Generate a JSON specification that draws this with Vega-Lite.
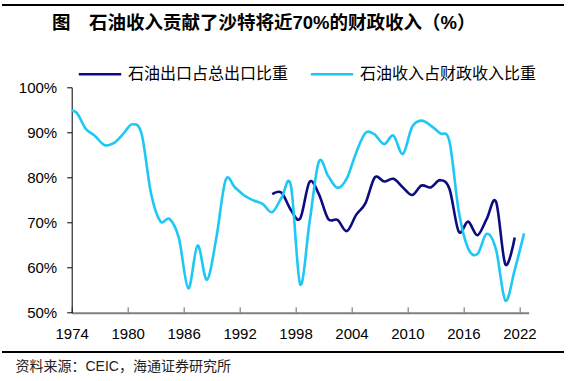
{
  "$schema": "https://vega.github.io/schema/vega-lite/v6.json",
  "autosize": {"type": "none"},
  "width": 457,
  "height": 225.4,
  "padding": {"left": 71.7, "top": 87.3, "right": 45.3, "bottom": 68.3},
  "background": "white",
  "config": {"view": {"stroke": null}, "font": "Liberation Sans, Noto Sans CJK SC"},
  "title": {
    "text": "图　石油收入贡献了沙特将近70%的财政收入（%）",
    "anchor": "start",
    "frame": "group",
    "dx": -19.7,
    "offset": -28,
    "font": "Liberation Sans, Noto Sans CJK SC",
    "fontSize": 18.5,
    "fontWeight": "bold",
    "color": "#000000"
  },
  "data": {
    "values": [
      {"year": "1995", "series": "石油出口占总出口比重", "value": 76.3},
      {"year": "1996", "series": "石油出口占总出口比重", "value": 76.6},
      {"year": "1997", "series": "石油出口占总出口比重", "value": 72.8},
      {"year": "1998", "series": "石油出口占总出口比重", "value": 70.9},
      {"year": "1999", "series": "石油出口占总出口比重", "value": 79.0},
      {"year": "2000", "series": "石油出口占总出口比重", "value": 76.3},
      {"year": "2001", "series": "石油出口占总出口比重", "value": 70.8},
      {"year": "2002", "series": "石油出口占总出口比重", "value": 70.6},
      {"year": "2003", "series": "石油出口占总出口比重", "value": 68.1},
      {"year": "2004", "series": "石油出口占总出口比重", "value": 71.7},
      {"year": "2005", "series": "石油出口占总出口比重", "value": 74.3},
      {"year": "2006", "series": "石油出口占总出口比重", "value": 80.0},
      {"year": "2007", "series": "石油出口占总出口比重", "value": 79.1},
      {"year": "2008", "series": "石油出口占总出口比重", "value": 79.7},
      {"year": "2009", "series": "石油出口占总出口比重", "value": 77.8},
      {"year": "2010", "series": "石油出口占总出口比重", "value": 76.1},
      {"year": "2011", "series": "石油出口占总出口比重", "value": 78.2},
      {"year": "2012", "series": "石油出口占总出口比重", "value": 77.8},
      {"year": "2013", "series": "石油出口占总出口比重", "value": 79.4},
      {"year": "2014", "series": "石油出口占总出口比重", "value": 77.5},
      {"year": "2015", "series": "石油出口占总出口比重", "value": 68.0},
      {"year": "2016", "series": "石油出口占总出口比重", "value": 70.2},
      {"year": "2017", "series": "石油出口占总出口比重", "value": 67.2},
      {"year": "2018", "series": "石油出口占总出口比重", "value": 70.8},
      {"year": "2019", "series": "石油出口占总出口比重", "value": 74.6},
      {"year": "2020", "series": "石油出口占总出口比重", "value": 60.7},
      {"year": "2021", "series": "石油出口占总出口比重", "value": 66.7},
      {"year": "1973", "series": "石油收入占财政收入比重", "value": 94.8},
      {"year": "1974", "series": "石油收入占财政收入比重", "value": 94.4},
      {"year": "1975", "series": "石油收入占财政收入比重", "value": 90.8},
      {"year": "1976", "series": "石油收入占财政收入比重", "value": 89.2},
      {"year": "1977", "series": "石油收入占财政收入比重", "value": 87.2},
      {"year": "1978", "series": "石油收入占财政收入比重", "value": 87.6},
      {"year": "1979", "series": "石油收入占财政收入比重", "value": 89.6},
      {"year": "1980", "series": "石油收入占财政收入比重", "value": 91.8},
      {"year": "1981", "series": "石油收入占财政收入比重", "value": 89.6},
      {"year": "1982", "series": "石油收入占财政收入比重", "value": 76.5},
      {"year": "1983", "series": "石油收入占财政收入比重", "value": 70.3},
      {"year": "1984", "series": "石油收入占财政收入比重", "value": 70.8},
      {"year": "1985", "series": "石油收入占财政收入比重", "value": 66.5},
      {"year": "1986", "series": "石油收入占财政收入比重", "value": 55.4},
      {"year": "1987", "series": "石油收入占财政收入比重", "value": 64.9},
      {"year": "1988", "series": "石油收入占财政收入比重", "value": 57.3},
      {"year": "1989", "series": "石油收入占财政收入比重", "value": 66.5},
      {"year": "1990", "series": "石油收入占财政收入比重", "value": 79.4},
      {"year": "1991", "series": "石油收入占财政收入比重", "value": 77.8},
      {"year": "1992", "series": "石油收入占财政收入比重", "value": 76.0},
      {"year": "1993", "series": "石油收入占财政收入比重", "value": 74.9},
      {"year": "1994", "series": "石油收入占财政收入比重", "value": 74.1},
      {"year": "1995", "series": "石油收入占财政收入比重", "value": 72.3},
      {"year": "1996", "series": "石油收入占财政收入比重", "value": 75.5},
      {"year": "1997", "series": "石油收入占财政收入比重", "value": 78.2},
      {"year": "1998", "series": "石油收入占财政收入比重", "value": 56.3},
      {"year": "1999", "series": "石油收入占财政收入比重", "value": 70.0},
      {"year": "2000", "series": "石油收入占财政收入比重", "value": 83.5},
      {"year": "2001", "series": "石油收入占财政收入比重", "value": 80.3},
      {"year": "2002", "series": "石油收入占财政收入比重", "value": 77.7},
      {"year": "2003", "series": "石油收入占财政收入比重", "value": 79.8},
      {"year": "2004", "series": "石油收入占财政收入比重", "value": 85.5},
      {"year": "2005", "series": "石油收入占财政收入比重", "value": 89.9},
      {"year": "2006", "series": "石油收入占财政收入比重", "value": 89.5},
      {"year": "2007", "series": "石油收入占财政收入比重", "value": 87.4},
      {"year": "2008", "series": "石油收入占财政收入比重", "value": 89.3},
      {"year": "2009", "series": "石油收入占财政收入比重", "value": 85.2},
      {"year": "2010", "series": "石油收入占财政收入比重", "value": 91.2},
      {"year": "2011", "series": "石油收入占财政收入比重", "value": 92.6},
      {"year": "2012", "series": "石油收入占财政收入比重", "value": 91.5},
      {"year": "2013", "series": "石油收入占财政收入比重", "value": 89.8},
      {"year": "2014", "series": "石油收入占财政收入比重", "value": 88.0},
      {"year": "2015", "series": "石油收入占财政收入比重", "value": 72.5},
      {"year": "2016", "series": "石油收入占财政收入比重", "value": 64.3},
      {"year": "2017", "series": "石油收入占财政收入比重", "value": 63.0},
      {"year": "2018", "series": "石油收入占财政收入比重", "value": 67.5},
      {"year": "2019", "series": "石油收入占财政收入比重", "value": 64.0},
      {"year": "2020", "series": "石油收入占财政收入比重", "value": 52.7},
      {"year": "2021", "series": "石油收入占财政收入比重", "value": 59.5},
      {"year": "2022", "series": "石油收入占财政收入比重", "value": 67.6}
    ]
  },
  "layer": [
    {
      "mark": {"type": "rule", "clip": false, "color": "#000000", "strokeWidth": 1.5},
      "encoding": {
        "x": {"datum": {"year": 1966, "month": 8, "date": 15, "utc": true}, "type": "temporal", "scale": {"domain": [{"year": 1974, "utc": true}, {"year": 2023, "utc": true}]}},
        "x2": {"datum": {"year": 2026, "month": 9, "date": 10, "utc": true}},
        "y": {"datum": 41.2, "type": "quantitative", "scale": {"domain": [50, 100], "zero": false}}
      }
    },
    {
      "mark": {"type": "line", "interpolate": "cardinal", "strokeWidth": 2.6, "clip": true},
      "encoding": {
        "x": {
          "field": "year",
          "type": "temporal",
          "timeUnit": "utcyear",
          "bandPosition": 0.5,
          "scale": {"domain": [{"year": 1974, "utc": true}, {"year": 2023, "utc": true}]},
          "axis": {
            "values": [
              {"year": 1974, "utc": true}, {"year": 1980, "utc": true}, {"year": 1986, "utc": true},
              {"year": 1992, "utc": true}, {"year": 1998, "utc": true}, {"year": 2004, "utc": true},
              {"year": 2010, "utc": true}, {"year": 2016, "utc": true}, {"year": 2022, "utc": true}
            ],
            "format": "%Y",
            "grid": false,
            "domainColor": "#808080",
            "domainWidth": 2,
            "tickColor": "#808080",
            "tickWidth": 1.2,
            "tickSize": -6,
            "labelFont": "Liberation Sans",
            "labelFontSize": 15,
            "labelColor": "#000000",
            "labelPadding": 20,
            "labelFlush": false,
            "labelOverlap": false,
            "title": "资料来源：CEIC，海通证券研究所",
            "titleFont": "Liberation Sans, Noto Sans CJK SC",
            "titleFontSize": 14,
            "titleFontWeight": "normal",
            "titleColor": "#222222",
            "titleAlign": "left",
            "titleAnchor": "start",
            "titleBaseline": "middle",
            "titleX": -56.7,
            "titleY": 54
          }
        },
        "y": {
          "field": "value",
          "type": "quantitative",
          "scale": {"domain": [50, 100], "zero": false},
          "axis": {
            "values": [50, 60, 70, 80, 90, 100],
            "labelExpr": "datum.value + '%'",
            "grid": false,
            "domainColor": "#000000",
            "tickColor": "#000000",
            "tickSize": 5,
            "labelFont": "Liberation Sans",
            "labelFontSize": 15,
            "labelColor": "#000000",
            "labelPadding": 10,
            "title": null
          }
        },
        "color": {
          "field": "series",
          "type": "nominal",
          "scale": {
            "domain": ["石油出口占总出口比重", "石油收入占财政收入比重"],
            "range": ["#0c0c80", "#1ec8f5"]
          },
          "legend": {
            "title": null,
            "orient": "none",
            "direction": "horizontal",
            "legendX": 5.3,
            "legendY": -36,
            "padding": 0,
            "symbolType": "stroke",
            "symbolSize": 1800,
            "symbolStrokeWidth": 2.6,
            "labelFont": "Noto Sans CJK SC",
            "labelFontSize": 16,
            "labelColor": "#000000",
            "labelOffset": 5,
            "labelLimit": 400,
            "columnPadding": 16
          }
        }
      }
    },
    {
      "mark": {"type": "rule", "clip": false, "color": "#000000", "strokeWidth": 1.5},
      "encoding": {
        "x": {"datum": {"year": 1966, "month": 8, "date": 15, "utc": true}, "type": "temporal"},
        "x2": {"datum": {"year": 2026, "month": 9, "date": 10, "utc": true}},
        "y": {"datum": 118.2, "type": "quantitative"}
      }
    }
  ]
}
